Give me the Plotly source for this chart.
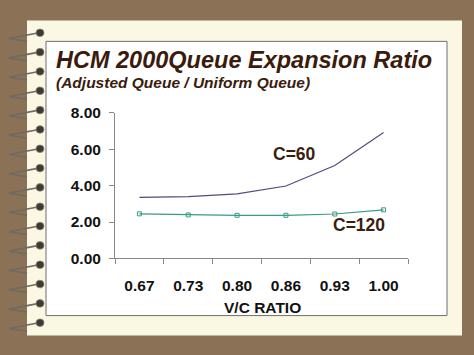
import plotly.graph_objects as go

categories = ["0.67", "0.73", "0.80", "0.86", "0.93", "1.00"]
c60_values = [3.35, 3.40, 3.55, 3.98, 5.10, 6.92]
c120_values = [2.45, 2.39, 2.37, 2.37, 2.44, 2.67]
y_ticks = [0, 2, 4, 6, 8]
y_tick_labels = ["0.00", "2.00", "4.00", "6.00", "8.00"]

W, H = 474, 355
def px(x): return x / W
def py(y): return 1 - y / H

fig = go.Figure()
fig.add_trace(go.Scatter(x=categories, y=c60_values, mode="lines",
                         line=dict(color="#4E4B80", width=1.2), name="C=60"))
fig.add_trace(go.Scatter(x=categories, y=c120_values, mode="lines+markers",
                         line=dict(color="#3A9A84", width=1.2),
                         marker=dict(symbol="square-open", size=4, color="#3A9A84", line=dict(width=1)),
                         name="C=120"))

shapes = []
# cream paper
shapes.append(dict(type="rect", xref="paper", yref="paper", x0=px(27), x1=px(462), y0=py(343), y1=py(12),
                   fillcolor="#FAF7E3", line=dict(width=0), layer="below"))
# white inner box
shapes.append(dict(type="rect", xref="paper", yref="paper", x0=px(46), x1=px(447), y0=py(322), y1=py(34),
                   fillcolor="#FFFFFF", line=dict(color="#6E6E6E", width=1), layer="below"))
# spiral rings
for i in range(16):
    y = 25 + i * 20.3
    path = f"M {px(39)},{py(y)} L {px(9)},{py(y+6)} L {px(27)},{py(y+9)}"
    shapes.append(dict(type="path", xref="paper", yref="paper", path=path,
                       line=dict(color="#6F6A62", width=1.6), layer="above"))
    shapes.append(dict(type="circle", xref="paper", yref="paper",
                       x0=px(36), x1=px(44), y0=py(y+4), y1=py(y-4),
                       fillcolor="#3E3A33", line=dict(color="#8A857A", width=0.8), layer="above"))

annotations = [
    dict(text="<b><i>HCM 2000Queue Expansion Ratio</i></b>", x=px(54), y=py(54), xref="paper", yref="paper",
         xanchor="left", yanchor="middle", showarrow=False,
         font=dict(family="Liberation Sans, Arial", size=23.5, color="#3B1B0C")),
    dict(text="<b><i>(Adjusted Queue / Uniform Queue)</i></b>", x=px(54), y=py(77), xref="paper", yref="paper",
         xanchor="left", yanchor="middle", showarrow=False,
         font=dict(family="Liberation Sans, Arial", size=15.5, color="#3B1B0C")),
    dict(text="<b>V/C RATIO</b>", x=px(262), y=py(313), xref="paper", yref="paper",
         xanchor="center", yanchor="middle", showarrow=False,
         font=dict(family="Liberation Sans, Arial", size=15.5, color="#111111")),
    dict(text="<b>C=60</b>", x=px(294.5), y=py(152), xref="paper", yref="paper",
         xanchor="center", yanchor="middle", showarrow=False,
         font=dict(family="Liberation Sans, Arial", size=17.5, color="#3A1E10")),
    dict(text="<b>C=120</b>", x=px(358.5), y=py(227), xref="paper", yref="paper",
         xanchor="center", yanchor="middle", showarrow=False,
         font=dict(family="Liberation Sans, Arial", size=17.5, color="#3A1E10")),
]

fig.update_layout(
    width=W, height=H, margin=dict(l=0, r=0, t=0, b=0),
    paper_bgcolor="#8B7257", plot_bgcolor="rgba(0,0,0,0)",
    showlegend=False, shapes=shapes, annotations=annotations,
    xaxis=dict(domain=[px(115), px(408)], type="category", range=[-0.5, 5.5],
               tickson="boundaries", ticks="outside", ticklen=5, tickcolor="#888888",
               ticklabelstandoff=13,
               showline=True, linecolor="#888888", linewidth=1, showgrid=False, zeroline=False,
               tickfont=dict(family="Liberation Sans, Arial", size=15.5, color="#111111"),
               tickprefix="<b>", ticksuffix="</b>", fixedrange=True),
    yaxis=dict(domain=[py(262), py(109)], range=[0, 8], tickvals=y_ticks,
               ticktext=[f"<b>{t}</b>" for t in y_tick_labels],
               ticks="outside", ticklen=5, tickcolor="#888888", ticklabelstandoff=5,
               showline=True, linecolor="#888888", linewidth=1, showgrid=False, zeroline=False,
               tickfont=dict(family="Liberation Sans, Arial", size=15.5, color="#111111"), fixedrange=True),
)

fig.write_html("out.html", config={"displayModeBar": False},
               post_script="document.body.style.margin='0';document.body.style.padding='0';document.body.style.overflow='hidden';")
